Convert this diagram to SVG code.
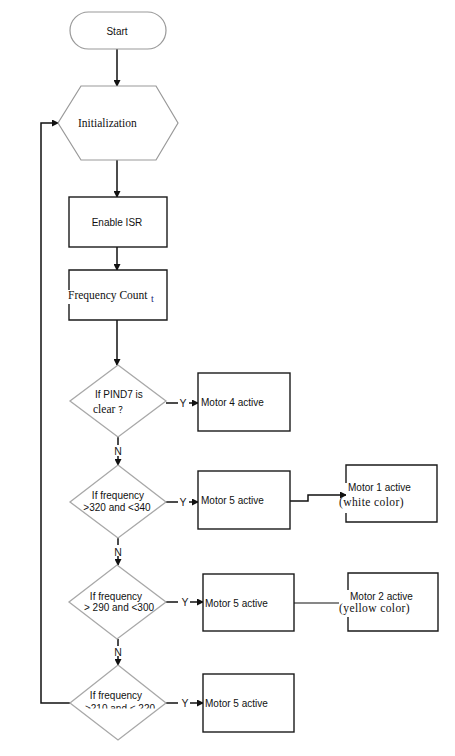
<svg xmlns="http://www.w3.org/2000/svg" width="455" height="756" viewBox="0 0 455 756">
<defs>
<marker id="ah" markerWidth="7" markerHeight="7" refX="6" refY="3.5" orient="auto" markerUnits="userSpaceOnUse">
<path d="M0,0 L7,3.5 L0,7 Z" fill="#111"/>
</marker>
<clipPath id="clip4"><rect x="70" y="660" width="100" height="48.5"/></clipPath>
</defs>
<style>
.term{fill:#fff;stroke:#999;stroke-width:1.2}
.box{fill:#fff;stroke:#1a1a1a;stroke-width:1.4}
.dia{fill:#fff;stroke:#a8a8a8;stroke-width:1.3}
.ln{fill:none;stroke:#111;stroke-width:1.5}
.sans{font-family:"Liberation Sans",Arial,sans-serif;font-size:10px;fill:#111}
.serif{font-family:"Liberation Serif","Times New Roman",serif;font-size:11.5px;fill:#111}
.lbl{font-family:"Liberation Sans",Arial,sans-serif;font-size:10.5px;fill:#222}
</style>
<rect width="455" height="756" fill="#fff"/>

<g id="connectors">
<line class="ln" x1="117" y1="49" x2="117" y2="86" marker-end="url(#ah)"/>
<line class="ln" x1="117" y1="160" x2="117" y2="197" marker-end="url(#ah)"/>
<line class="ln" x1="117" y1="247" x2="117" y2="270" marker-end="url(#ah)"/>
<line class="ln" x1="117" y1="320" x2="117" y2="365" marker-end="url(#ah)"/>
<polyline class="ln" points="70,703 41,703 41,123 58,123" marker-end="url(#ah)"/>
<!-- Y branches -->
<line class="ln" x1="166" y1="403" x2="178" y2="403"/>
<line class="ln" x1="189" y1="403" x2="198" y2="403" marker-end="url(#ah)"/>
<line class="ln" x1="166" y1="502" x2="178" y2="502"/>
<line class="ln" x1="189" y1="502" x2="198" y2="502" marker-end="url(#ah)"/>
<line class="ln" x1="166" y1="602" x2="178" y2="602"/>
<line class="ln" x1="190" y1="602" x2="203" y2="602" marker-end="url(#ah)"/>
<line class="ln" x1="166" y1="703" x2="178" y2="703"/>
<line class="ln" x1="190" y1="703" x2="203" y2="703" marker-end="url(#ah)"/>
<!-- N branches -->
<line class="ln" x1="118" y1="437" x2="118" y2="445"/>
<line class="ln" x1="118" y1="456" x2="118" y2="465" marker-end="url(#ah)"/>
<line class="ln" x1="118" y1="538" x2="118" y2="545"/>
<line class="ln" x1="118" y1="556" x2="118" y2="565" marker-end="url(#ah)"/>
<line class="ln" x1="118" y1="639" x2="118" y2="646"/>
<line class="ln" x1="118" y1="656" x2="118" y2="665" marker-end="url(#ah)"/>
<!-- to motor 1 / motor 2 -->
<polyline class="ln" points="290,501 308,501 308,495 346,495" marker-end="url(#ah)"/>
<line class="ln" x1="294" y1="603" x2="339" y2="603" style="stroke-width:1.2"/>
<text class="lbl" x="183" y="407" text-anchor="middle">Y</text>
<text class="lbl" x="183" y="506" text-anchor="middle">Y</text>
<text class="lbl" x="185" y="606" text-anchor="middle">Y</text>
<text class="lbl" x="185" y="707" text-anchor="middle">Y</text>
<text class="lbl" x="118" y="455" text-anchor="middle">N</text>
<text class="lbl" x="118" y="556" text-anchor="middle">N</text>
<text class="lbl" x="118" y="656" text-anchor="middle">N</text>
</g>

<g id="start">
<rect class="term" x="70" y="12" width="96" height="37" rx="18.5"/>
<text class="sans" x="117" y="34.5" text-anchor="middle">Start</text>
</g>

<g id="initialization">
<polygon class="term" points="81,86 156,86 178,123 156,160 81,160 58,123"/>
<text class="serif" x="78" y="126.5">Initialization</text>
</g>

<g id="enable-isr">
<rect class="box" x="69" y="197" width="98" height="50"/>
<text class="sans" x="117" y="225.5" text-anchor="middle">Enable ISR</text>
</g>

<g id="frequency-count">
<path class="box" d="M69,290 L69,270 L167,270 L167,320 L69,320 L69,304"/>
<text class="serif" x="68" y="299">Frequency Count</text>
<text x="151" y="302" style="font-family:'Liberation Serif',serif;font-size:10px;fill:#1a2a7a">t</text>
</g>

<g id="decision-pind7">
<polygon class="dia" points="118,365 166,401 118,437 70,401"/>
<text class="sans" x="95" y="398">If PIND7 is</text>
<text class="serif" x="93" y="413">clear <tspan style="font-family:'Noto Sans CJK SC',sans-serif;font-size:9px">？</tspan></text>
</g>

<g id="motor4">
<rect class="box" x="198" y="373" width="92" height="58"/>
<text class="sans" x="201" y="406">Motor 4 active</text>
</g>

<g id="decision-320-340">
<polygon class="dia" points="118,465 166,502 118,538 70,502"/>
<text class="sans" x="118" y="499" text-anchor="middle">If frequency</text>
<text class="sans" x="117" y="511" text-anchor="middle">&gt;320 and &lt;340</text>
</g>

<g id="motor5-a">
<rect class="box" x="198" y="471" width="92" height="58"/>
<text class="sans" x="201" y="504">Motor 5 active</text>
</g>

<g id="motor1">
<path class="box" d="M346,483 L346,465 L437,465 L437,522 L346,522 L346,513"/>
<text class="sans" x="348" y="491">Motor 1 active</text>
<text class="serif" x="339" y="506" style="letter-spacing:0.4px">(white color)</text>
</g>

<g id="decision-290-300">
<polygon class="dia" points="117,565 166,602 117,639 69,602"/>
<text class="sans" x="116" y="600" text-anchor="middle">If frequency</text>
<text class="sans" x="119" y="611" text-anchor="middle">&gt; 290 and &lt;300</text>
</g>

<g id="motor5-b">
<rect class="box" x="203" y="574" width="91" height="57"/>
<text class="sans" x="205" y="607">Motor 5 active</text>
</g>

<g id="motor2">
<path class="box" d="M348,590 L348,573 L438,573 L438,631 L348,631 L348,617"/>
<text class="sans" x="350" y="600">Motor 2 active</text>
<text class="serif" x="339" y="612" style="letter-spacing:0.4px">(yellow color)</text>
</g>

<g id="decision-210-220">
<polygon class="dia" points="118,665 166,703 118,740 70,703"/>
<text class="sans" x="116" y="699" text-anchor="middle">If frequency</text>
<text class="sans" x="120" y="712" text-anchor="middle" clip-path="url(#clip4)">&gt;210 and &lt; 220</text>
</g>

<g id="motor5-c">
<rect class="box" x="203" y="674" width="91" height="58"/>
<text class="sans" x="205" y="707">Motor 5 active</text>
</g>
</svg>
